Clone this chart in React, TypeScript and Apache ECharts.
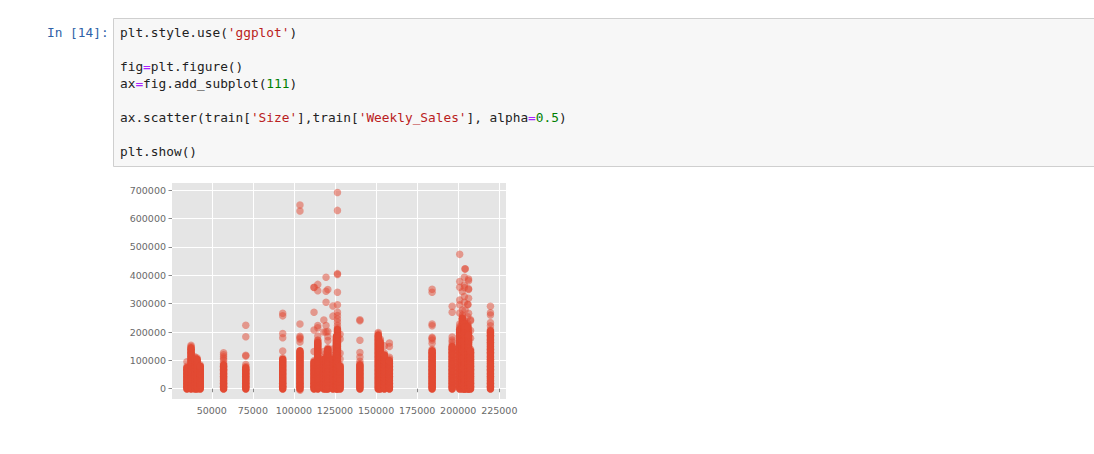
import React, { useEffect, useRef } from "react";
import * as echarts from "echarts";

// Tick labels
const xTicks = [50000, 75000, 100000, 125000, 150000, 175000, 200000, 225000];
const yTicks = [0, 100000, 200000, 300000, 400000, 500000, 600000, 700000];

// Solid parts of the columns
const low = [-1000, 4000, 9000, 14000, 19000, 24000, 29000, 34000, 39000, 44000, 49000, 54000, 59000, 64000, 69000, 74000];
const mid = [79000, 84000, 89000, 94000, 99000, 104000];
const high = [109000, 114000, 119000, 124000, 129000, 134000];
const top = [139000, 144000, 149000, 154000, 159000, 164000, 169000, 174000, 179000, 184000];
const peak = [189000, 194000, 199000, 204000, 209000];

const storeSizes = [
  34875, 37392, 39690, 41062, 42988, 57197, 70713, 93188, 103681, 112238,
  114533, 118221, 119557, 120653, 123737, 125833, 126512, 128107, 140167, 151315,
  152513, 155078, 158114, 184109, 196321, 200898, 202505, 203742, 204184, 205863,
  206302, 207499, 219622,
];

// Each store: solid column values, then the lighter scattered values above
const storeSolid: number[][] = [
  [...low],
  [...low, ...mid, ...high, 139000, 144000],
  [...low, ...mid],
  [...low, ...mid],
  [...low, 79000],
  [...low, 79000, 84000],
  [...low],
  [...low, ...mid],
  [...low, ...mid, ...high],
  [...low, 79000, 84000, 89000, 94000],
  [...low, ...mid, ...high, 139000, 144000, 149000, 154000, 159000, 164000],
  [...low, ...mid],
  [...low, ...mid],
  [...low, ...mid, ...high, 139000],
  [...low, ...mid],
  [...low, ...mid, ...high, ...top],
  [...low, ...mid, ...high, ...top, ...peak],
  [...low, 79000],
  [...low, 79000, 84000],
  [...low, ...mid, ...high, ...top, 189000],
  [...low, ...mid, ...high, 139000, 144000, 149000, 154000, 159000, 164000],
  [...low, ...mid, 109000, 114000, 119000],
  [...low, 79000, 84000, 89000, 94000, 99000],
  [...low, ...mid, ...high],
  [...low, ...mid, ...high, 139000, 144000, 149000],
  [...low, ...mid, ...high, ...top, ...peak],
  [...low, ...mid, ...high, ...top, ...peak, 214000, 219000, 224000, 229000, 234000, 239000, 244000, 249000],
  [...low, ...mid, ...high, ...top, ...peak, 214000, 219000, 224000, 229000],
  [...low, ...mid, ...high, ...top, ...peak, 214000, 219000],
  [...low, ...mid, ...high, ...top, ...peak, 214000, 219000],
  [...low, ...mid, ...high, ...top, 189000],
  [...low, ...mid, ...high],
  [...low, ...mid, ...high, ...top, 189000, 194000, 199000, 204000],
];

const storeSparse: number[][] = [
  [79000, 95000],
  [149000, 153000],
  [109000, 113000],
  [108000],
  [84000],
  [90000, 100000, 107000, 113000, 120000, 127000],
  [78000, 85000, 115000, 118000, 183000, 224000],
  [108000, 133000, 180000, 195000, 257000, 266000],
  [-5000, 165000, 175000, 180000, 185000, 228000, 627000, 648000],
  [99000, 131000, 207000, 270000, 357000, 358000],
  [170000, 172000, 186000, 215000, 223000, 346000, 368000],
  [109000, 131000, 200000, 242000],
  [110000, 125000, 200000, 223000, 305000, 344000, 393000],
  [144000, 170000, 183000, 202000, 350000],
  [109000, 116000, 140000, 256000, 292000],
  [125000],
  [214000, 224000, 235000, 246000, 258000, 270000, 296000, 340000, 403000, 406000, 629000, 692000],
  [84000, 105000, 125000, 175000, 192000],
  [89000, 97000, 112000, 128000, 171000, 240000, 243000],
  [194000, 198000],
  [170000, 175000],
  [125000, 151000],
  [105000, 111000, 149000, 161000],
  [139000, 160000, 172000, 178000, 181000, 222000, 228000, 340000, 351000],
  [155000, 165000, 172000, 182000, 270000, 291000],
  [214000, 219000, 228000, 267000, 296000, 313000, 358000, 378000, 474000],
  [254000, 260000, 278000, 343000],
  [234000, 240000, 305000, 325000, 357000, 366000, 393000],
  [224000, 230000, 278000, 422000, 423000],
  [224000, 230000, 254000, 296000, 298000],
  [195000, 205000, 266000, 319000, 350000, 353000, 381000, 387000],
  [139000, 178000, 205000, 240000, 243000],
  [208000, 222000, 233000, 260000, 268000, 291000],
];

// Notebook cell text: [y centre, [[text, colour], ...]]
const plain = "#222222";
const purple = "#AA22FF";
const red = "#BA2121";
const green = "#008000";
const codeLines: [number, [string, string][]][] = [
  [32, [["plt.style.use(", plain], ["'ggplot'", red], [")", plain]]],
  [66, [["fig", plain], ["=", purple], ["plt.figure()", plain]]],
  [83, [["ax", plain], ["=", purple], ["fig.add_subplot(", plain], ["111", green], [")", plain]]],
  [117, [["ax.scatter(train[", plain], ["'Size'", red], ["],train[", plain], ["'Weekly_Sales'", red], ["], alpha", plain], ["=", purple], ["0.5", green], [")", plain]]],
  [151, [["plt.show()", plain]]],
];
const prompt = "In [14]:";

const codeFont = '12.8px "DejaVu Sans Mono", monospace';
const charWidth = 7.7;

function codeGraphics() {
  const out: any[] = [
    { type: "rect", shape: { x: 113.5, y: 18.5, width: 1000, height: 148 }, style: { fill: "#f7f7f7", stroke: "#cfcfcf", lineWidth: 1 } },
    { type: "text", x: 47, y: 32, style: { text: prompt, fill: "#2F62A8", font: codeFont, verticalAlign: "middle" } },
  ];
  for (const [y, tokens] of codeLines) {
    let col = 0;
    for (const [text, fill] of tokens) {
      out.push({ type: "text", x: 120 + col * charWidth, y, style: { text, fill, font: codeFont, verticalAlign: "middle" } });
      col += text.length;
    }
  }
  return out;
}

const solidPoints = storeSizes.flatMap((size, i) => storeSolid[i].map((v) => [size, v]));
const sparsePoints = storeSizes.flatMap((size, i) => storeSparse[i].map((v) => [size, v]));

export default function App() {
  const ref = useRef<HTMLDivElement>(null);
  useEffect(() => {
    const chart = echarts.init(ref.current!, null, { renderer: "svg" });
    const axisCommon = {
      type: "value",
      axisLine: { show: false },
      axisTick: { show: true, length: 3.5, lineStyle: { color: "#888888", width: 1 } },
      splitLine: { show: true, lineStyle: { color: "#ffffff", width: 1 } },
    };
    const labelCommon = {
      color: "#696969",
      fontFamily: "DejaVu Sans",
      fontSize: 9.5,
      margin: 6,
      formatter: (v: number) => String(v),
      showMinLabel: true,
      showMaxLabel: true,
    };
    chart.setOption({
      animation: false,
      backgroundColor: "#ffffff",
      graphic: codeGraphics(),
      grid: { left: 172, top: 183, width: 334, height: 216, show: true, backgroundColor: "#E5E5E5", borderWidth: 0 },
      xAxis: {
        ...axisCommon,
        min: 25800,
        max: 229085,
        axisTick: { ...axisCommon.axisTick, customValues: xTicks },
        axisLabel: { ...labelCommon, customValues: xTicks },
      },
      yAxis: {
        ...axisCommon,
        min: -36300,
        max: 725700,
        axisTick: { ...axisCommon.axisTick, customValues: yTicks },
        axisLabel: { ...labelCommon, customValues: yTicks },
      },
      series: [
        {
          type: "scatter",
          data: sparsePoints,
          symbolSize: 7.5,
          silent: true,
          itemStyle: { color: "#E24A33", opacity: 0.5 },
        },
        {
          type: "scatter",
          data: solidPoints,
          symbolSize: 7.5,
          silent: true,
          itemStyle: { color: "#E24A33", opacity: 1 },
        },
      ],
    });
    return () => chart.dispose();
  }, []);
  return <div ref={ref} style={{ position: "fixed", left: 0, top: 0, width: 1094, height: 454 }} />;
}
